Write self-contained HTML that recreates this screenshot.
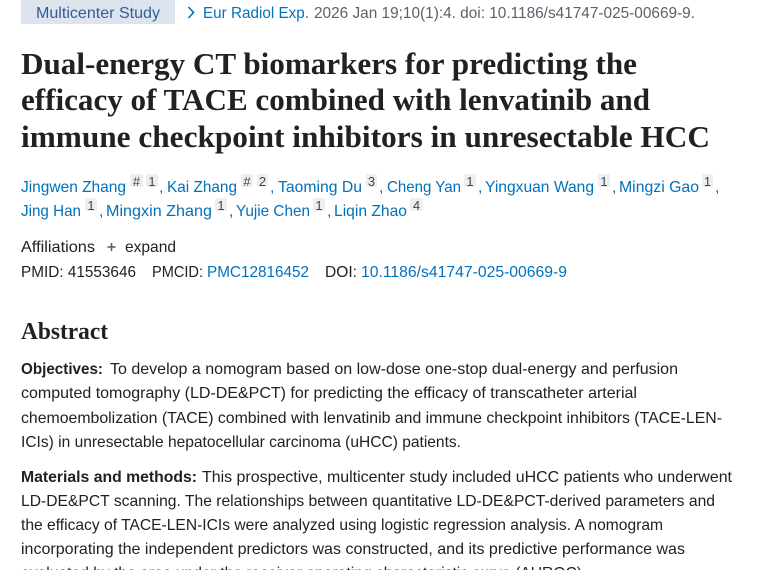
<!DOCTYPE html>
<html>
<head>
<meta charset="utf-8">
<style>
html,body{margin:0;padding:0;background:#fff;width:760px;height:570px;overflow:hidden;}
svg{display:block;}
.s{font-family:"Liberation Sans",sans-serif;font-size:16px;fill:#212121;}
.b{font-family:"Liberation Sans",sans-serif;font-size:16px;font-weight:bold;fill:#212121;}
.l{font-family:"Liberation Sans",sans-serif;font-size:16px;fill:#0071bc;}
.g{font-family:"Liberation Sans",sans-serif;font-size:16px;fill:#5b616b;}
.t{font-family:"Liberation Serif",serif;font-size:31px;font-weight:bold;fill:#212121;}
.h{font-family:"Liberation Serif",serif;font-size:24px;font-weight:bold;fill:#212121;}
.sup{font-family:"Liberation Sans",sans-serif;font-size:13px;fill:#444;}
</style>
</head>
<body>
<svg width="760" height="570" viewBox="0 0 760 570" xmlns="http://www.w3.org/2000/svg">
<!-- header -->
<rect x="21" y="0" width="154" height="24" fill="#dde4ee"/>
<text x="36" y="18" class="s" style="fill:#2f5f97" textLength="124" lengthAdjust="spacingAndGlyphs">Multicenter Study</text>
<polyline points="188.5,7 193.5,12.5 188.5,18" fill="none" stroke="#0071bc" stroke-width="1.6"/>
<text x="203" y="18" class="l" textLength="106" lengthAdjust="spacingAndGlyphs">Eur Radiol Exp.</text>
<text x="314" y="18" class="g" textLength="381" lengthAdjust="spacingAndGlyphs">2026 Jan 19;10(1):4. doi: 10.1186/s41747-025-00669-9.</text>

<!-- title -->
<text x="21" y="74" class="t" textLength="616" lengthAdjust="spacingAndGlyphs">Dual-energy CT biomarkers for predicting the</text>
<text x="21" y="110" class="t" textLength="629" lengthAdjust="spacingAndGlyphs">efficacy of TACE combined with lenvatinib and</text>
<text x="21" y="147" class="t" textLength="689" lengthAdjust="spacingAndGlyphs">immune checkpoint inhibitors in unresectable HCC</text>

<!-- superscript boxes -->
<g fill="#eeeeee">
<rect x="130" y="174" width="13" height="13" rx="2"/>
<rect x="146" y="174" width="12" height="13" rx="2"/>
<rect x="241" y="174" width="12" height="13" rx="2"/>
<rect x="257" y="174" width="11" height="13" rx="2"/>
<rect x="366" y="174" width="11" height="13" rx="2"/>
<rect x="464" y="174" width="12" height="13" rx="2"/>
<rect x="598" y="174" width="12" height="13" rx="2"/>
<rect x="702" y="174" width="11" height="13" rx="2"/>
<rect x="85" y="198" width="12" height="13" rx="2"/>
<rect x="215" y="198" width="12" height="13" rx="2"/>
<rect x="313" y="198" width="12" height="13" rx="2"/>
<rect x="410" y="198" width="13" height="13" rx="2"/>
</g>
<g text-anchor="middle">
<text x="136.5" y="186" class="sup">#</text>
<text x="152" y="186" class="sup">1</text>
<text x="247" y="186" class="sup">#</text>
<text x="262.5" y="186" class="sup">2</text>
<text x="371.5" y="186" class="sup">3</text>
<text x="470" y="186" class="sup">1</text>
<text x="604" y="186" class="sup">1</text>
<text x="707.5" y="186" class="sup">1</text>
<text x="91" y="210" class="sup">1</text>
<text x="221" y="210" class="sup">1</text>
<text x="319" y="210" class="sup">1</text>
<text x="416.5" y="210" class="sup">4</text>
</g>

<!-- authors line 1 -->
<text x="21" y="192" class="l" textLength="105" lengthAdjust="spacingAndGlyphs">Jingwen Zhang</text>
<text x="159" y="192" class="l">,</text>
<text x="167" y="192" class="l" textLength="70" lengthAdjust="spacingAndGlyphs">Kai Zhang</text>
<text x="270" y="192" class="l">,</text>
<text x="278" y="192" class="l" textLength="84" lengthAdjust="spacingAndGlyphs">Taoming Du</text>
<text x="379" y="192" class="l">,</text>
<text x="387" y="192" class="l" textLength="74" lengthAdjust="spacingAndGlyphs">Cheng Yan</text>
<text x="478" y="192" class="l">,</text>
<text x="485" y="192" class="l" textLength="109" lengthAdjust="spacingAndGlyphs">Yingxuan Wang</text>
<text x="612" y="192" class="l">,</text>
<text x="619" y="192" class="l" textLength="80" lengthAdjust="spacingAndGlyphs">Mingzi Gao</text>
<text x="715" y="192" class="l">,</text>

<!-- authors line 2 -->
<text x="21" y="216" class="l" textLength="60" lengthAdjust="spacingAndGlyphs">Jing Han</text>
<text x="99" y="216" class="l">,</text>
<text x="106" y="216" class="l" textLength="106" lengthAdjust="spacingAndGlyphs">Mingxin Zhang</text>
<text x="229" y="216" class="l">,</text>
<text x="236" y="216" class="l" textLength="74" lengthAdjust="spacingAndGlyphs">Yujie Chen</text>
<text x="327" y="216" class="l">,</text>
<text x="334" y="216" class="l" textLength="73" lengthAdjust="spacingAndGlyphs">Liqin Zhao</text>

<!-- affiliations -->
<text x="21" y="252" class="s" textLength="74" lengthAdjust="spacingAndGlyphs">Affiliations</text>
<line x1="107.5" y1="247" x2="115.5" y2="247" stroke="#5b616b" stroke-width="1.6"/>
<line x1="111.5" y1="243" x2="111.5" y2="251" stroke="#5b616b" stroke-width="1.6"/>
<text x="125" y="252" class="s" textLength="51" lengthAdjust="spacingAndGlyphs">expand</text>

<!-- ids -->
<text x="21" y="277" class="s" textLength="115" lengthAdjust="spacingAndGlyphs">PMID: 41553646</text>
<text x="152" y="277" class="s" textLength="51" lengthAdjust="spacingAndGlyphs">PMCID:</text>
<text x="207" y="277" class="l" textLength="102" lengthAdjust="spacingAndGlyphs">PMC12816452</text>
<text x="325" y="277" class="s" textLength="32" lengthAdjust="spacingAndGlyphs">DOI:</text>
<text x="361" y="277" class="l" textLength="206" lengthAdjust="spacingAndGlyphs">10.1186/s41747-025-00669-9</text>

<!-- abstract -->
<text x="21" y="339" class="h" textLength="87" lengthAdjust="spacingAndGlyphs">Abstract</text>

<text x="21" y="374" class="b" textLength="82" lengthAdjust="spacingAndGlyphs">Objectives:</text>
<text x="110" y="374" class="s" textLength="568" lengthAdjust="spacingAndGlyphs">To develop a nomogram based on low-dose one-stop dual-energy and perfusion</text>
<text x="21" y="398" class="s" textLength="616" lengthAdjust="spacingAndGlyphs">computed tomography (LD-DE&amp;PCT) for predicting the efficacy of transcatheter arterial</text>
<text x="21" y="423" class="s" textLength="701" lengthAdjust="spacingAndGlyphs">chemoembolization (TACE) combined with lenvatinib and immune checkpoint inhibitors (TACE-LEN-</text>
<text x="21" y="447" class="s" textLength="440" lengthAdjust="spacingAndGlyphs">ICIs) in unresectable hepatocellular carcinoma (uHCC) patients.</text>

<text x="21" y="482" class="b" textLength="176" lengthAdjust="spacingAndGlyphs">Materials and methods:</text>
<text x="202" y="482" class="s" textLength="530" lengthAdjust="spacingAndGlyphs">This prospective, multicenter study included uHCC patients who underwent</text>
<text x="21" y="506" class="s" textLength="694" lengthAdjust="spacingAndGlyphs">LD-DE&amp;PCT scanning. The relationships between quantitative LD-DE&amp;PCT-derived parameters and</text>
<text x="21" y="530" class="s" textLength="642" lengthAdjust="spacingAndGlyphs">the efficacy of TACE-LEN-ICIs were analyzed using logistic regression analysis. A nomogram</text>
<text x="21" y="554" class="s" textLength="664" lengthAdjust="spacingAndGlyphs">incorporating the independent predictors was constructed, and its predictive performance was</text>
<text x="21" y="578" class="s" textLength="561" lengthAdjust="spacingAndGlyphs">evaluated by the area under the receiver operating characteristic curve (AUROC)</text>
</svg>
</body>
</html>
